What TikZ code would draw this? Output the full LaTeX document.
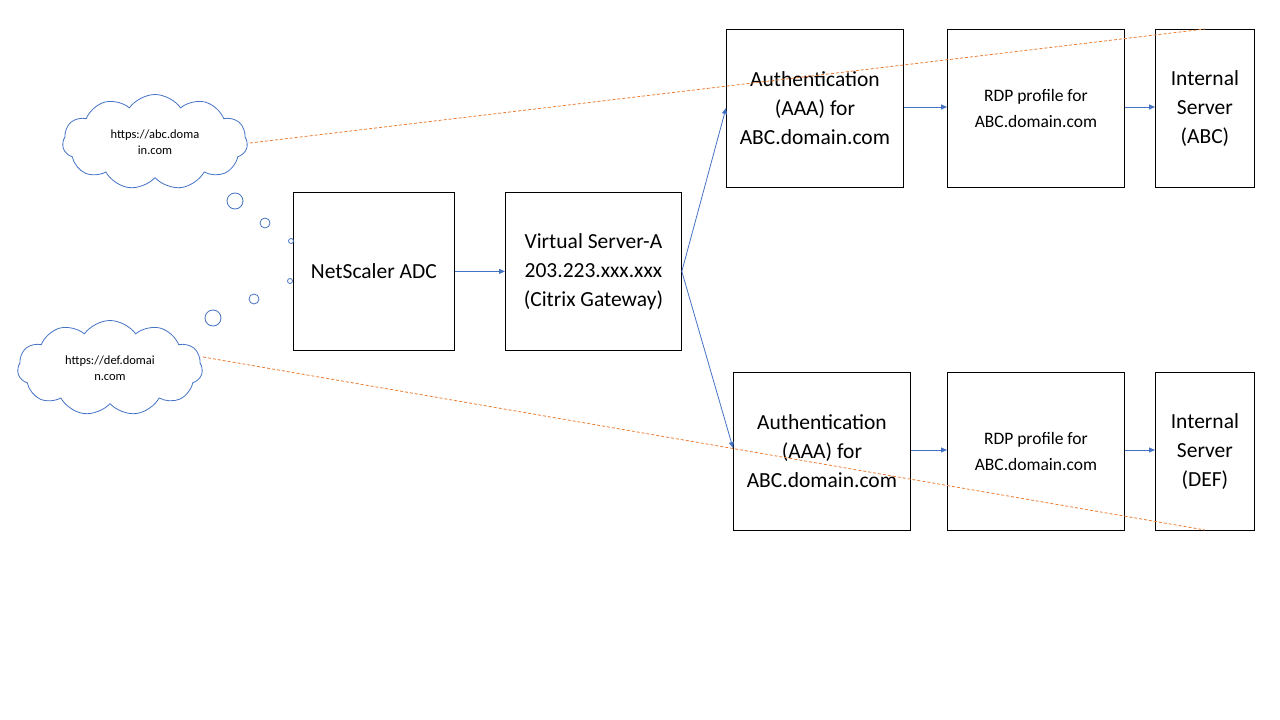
\documentclass[tikz,border=0pt]{standalone}
\usepackage{fontspec}
\setmainfont{Carlito}
\usetikzlibrary{shapes.symbols,arrows.meta}
\definecolor{cblue}{HTML}{4472C4}
\definecolor{corange}{HTML}{ED7D31}
\begin{document}
\begin{tikzpicture}[x=1pt,y=-1pt,
  box/.style={draw=black,line width=0.8pt,anchor=north west,inner sep=0pt,align=center},
  big/.style={font=\fontsize{21.5}{29}\selectfont},
  small/.style={font=\fontsize{17.5}{26}\selectfont},
  cl/.style={cloud,cloud puffs=11,cloud puff arc=110,aspect=1.9,draw=cblue,line width=0.8pt,minimum width=185pt,minimum height=95pt,align=center,font=\fontsize{12.5}{16}\selectfont,inner sep=0pt},
  bub/.style={circle,draw=cblue,line width=0.8pt,inner sep=0pt},
  arr/.style={draw=cblue,line width=0.8pt,-{Triangle[length=6pt,width=5pt]}},
  odash/.style={draw=corange,line width=0.8pt,dash pattern=on 3pt off 2pt}]
\useasboundingbox (0,0) rectangle (1280,720);
\node[box,big,minimum width=161pt,minimum height=158pt] (ns) at (293,192) {NetScaler ADC};
\node[box,big,minimum width=176pt,minimum height=158pt] (vs) at (505,192) {Virtual Server-A\\203.223.xxx.xxx\\(Citrix Gateway)};
\node[box,big,minimum width=177pt,minimum height=158pt] (aaa1) at (726,29) {Authentication\\(AAA) for\\ABC.domain.com};
\node[box,small,minimum width=177pt,minimum height=158pt] (rdp1) at (947,29) {RDP profile for\\ABC.domain.com};
\node[box,big,minimum width=99pt,minimum height=158pt] (int1) at (1155,29) {Internal\\Server\\(ABC)};
\node[box,big,minimum width=177pt,minimum height=158pt] (aaa2) at (733,372) {Authentication\\(AAA) for\\ABC.domain.com};
\node[box,small,minimum width=177pt,minimum height=158pt] (rdp2) at (947,372) {RDP profile for\\ABC.domain.com};
\node[box,big,minimum width=99pt,minimum height=158pt] (int2) at (1155,372) {Internal\\Server\\(DEF)};
\node[cl] (c1) at (155,142) {https://abc.doma\\in.com};
\node[cl] (c2) at (110,368) {https://def.domai\\n.com};
\node[bub,minimum size=16pt] (b1) at (235,201) {};
\node[bub,minimum size=10pt] (b2) at (265,223) {};
\node[bub,minimum size=5pt] (b3) at (291,241) {};
\node[bub,minimum size=5pt] (b4) at (290,281) {};
\node[bub,minimum size=10pt] (b5) at (254,299) {};
\node[bub,minimum size=16pt] (b6) at (213,318) {};
\coordinate (e1) at (1205,29);
\coordinate (e2) at (1205,530);
\coordinate (s1) at (250,143);
\coordinate (s2) at (203,357);
\draw[odash] (s1) -- (e1);
\draw[odash] (s2) -- (e2);
\draw[arr] (ns.east) -- (vs.west);
\draw[arr] (vs.east) -- (aaa1.west |- 0,108);
\draw[arr] (vs.east) -- (aaa2.west |- 0,448);
\draw[arr] (aaa1.east |- 0,107) -- (rdp1.west |- 0,107);
\draw[arr] (rdp1.east |- 0,107) -- (int1.west |- 0,107);
\draw[arr] (aaa2.east |- 0,450) -- (rdp2.west |- 0,450);
\draw[arr] (rdp2.east |- 0,450) -- (int2.west |- 0,450);
\end{tikzpicture}
\end{document}
